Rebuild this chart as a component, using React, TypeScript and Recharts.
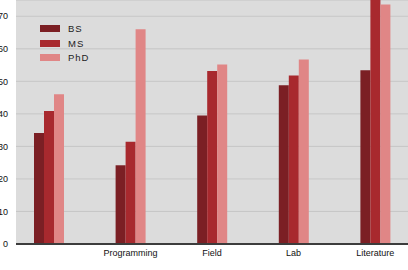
import React from "react";
import {
  BarChart,
  Bar,
  XAxis,
  YAxis,
  CartesianGrid,
  Legend,
} from "recharts";

const categories = ["", "Programming", "Field", "Lab", "Literature"];
const bsValues = [34.1, 24.2, 39.5, 48.8, 53.4];
const msValues = [40.9, 31.4, 53.2, 51.8, 77];
const phdValues = [46, 66, 55.2, 56.7, 73.6];
const yTicks = [0, 10, 20, 30, 40, 50, 60, 70];

const series = [
  { key: "BS", color: "#7b1f24" },
  { key: "MS", color: "#a8292e" },
  { key: "PhD", color: "#e08686" },
];

const data = categories.map((name, i) => ({
  name,
  BS: bsValues[i],
  MS: msValues[i],
  PhD: phdValues[i],
}));

const font = "'Liberation Sans', Arial, sans-serif";

const LegendBox = () => (
  <div style={{ fontFamily: font, fontSize: 9.5, color: "#222" }}>
    {series.map((s) => (
      <div
        key={s.key}
        style={{ display: "flex", alignItems: "center", height: 14.7 }}
      >
        <span
          style={{
            display: "inline-block",
            width: 20,
            height: 7,
            background: s.color,
            marginRight: 8,
          }}
        />
        <span style={{ letterSpacing: 1 }}>{s.key}</span>
      </div>
    ))}
  </div>
);

export default function App() {
  return (
    <div
      style={{
        position: "absolute",
        left: 0,
        top: 0,
        width: 408,
        height: 270,
        overflow: "hidden",
        background: "#fff",
      }}
    >
      <BarChart
        width={408}
        height={270}
        data={data}
        margin={{ top: 0, right: 0, bottom: 0, left: 0 }}
        barGap={0}
        barSize={10}
      >
        <CartesianGrid
          horizontal={false}
          vertical={false}
          fill="#dcdcdc"
          stroke="none"
        />
        <XAxis
          dataKey="name"
          height={26}
          padding={{ left: -8, right: -8 }}
          tickLine={false}
          tickSize={6}
          tickMargin={0}
          interval={0}
          axisLine={{ stroke: "#3c3c3c", strokeWidth: 2 }}
          tick={{ fontSize: 9, fill: "#111", fontFamily: font }}
        />
        <YAxis
          width={16}
          domain={[0, 75]}
          ticks={yTicks}
          allowDataOverflow
          axisLine={false}
          tickLine={false}
          tickSize={8}
          tickMargin={0}
          tick={{ fontSize: 9, fill: "#111", fontFamily: font }}
        />
        {series.map((s) => (
          <Bar
            key={s.key}
            dataKey={s.key}
            fill={s.color}
            isAnimationActive={false}
          />
        ))}
        <CartesianGrid
          vertical={false}
          stroke="#b4b4b4"
          strokeOpacity={0.55}
        />
        <Legend
          layout="vertical"
          align="center"
          verticalAlign="middle"
          content={<LegendBox />}
          wrapperStyle={{ left: 40, top: 21, width: 60, height: 44 }}
        />
      </BarChart>
    </div>
  );
}
